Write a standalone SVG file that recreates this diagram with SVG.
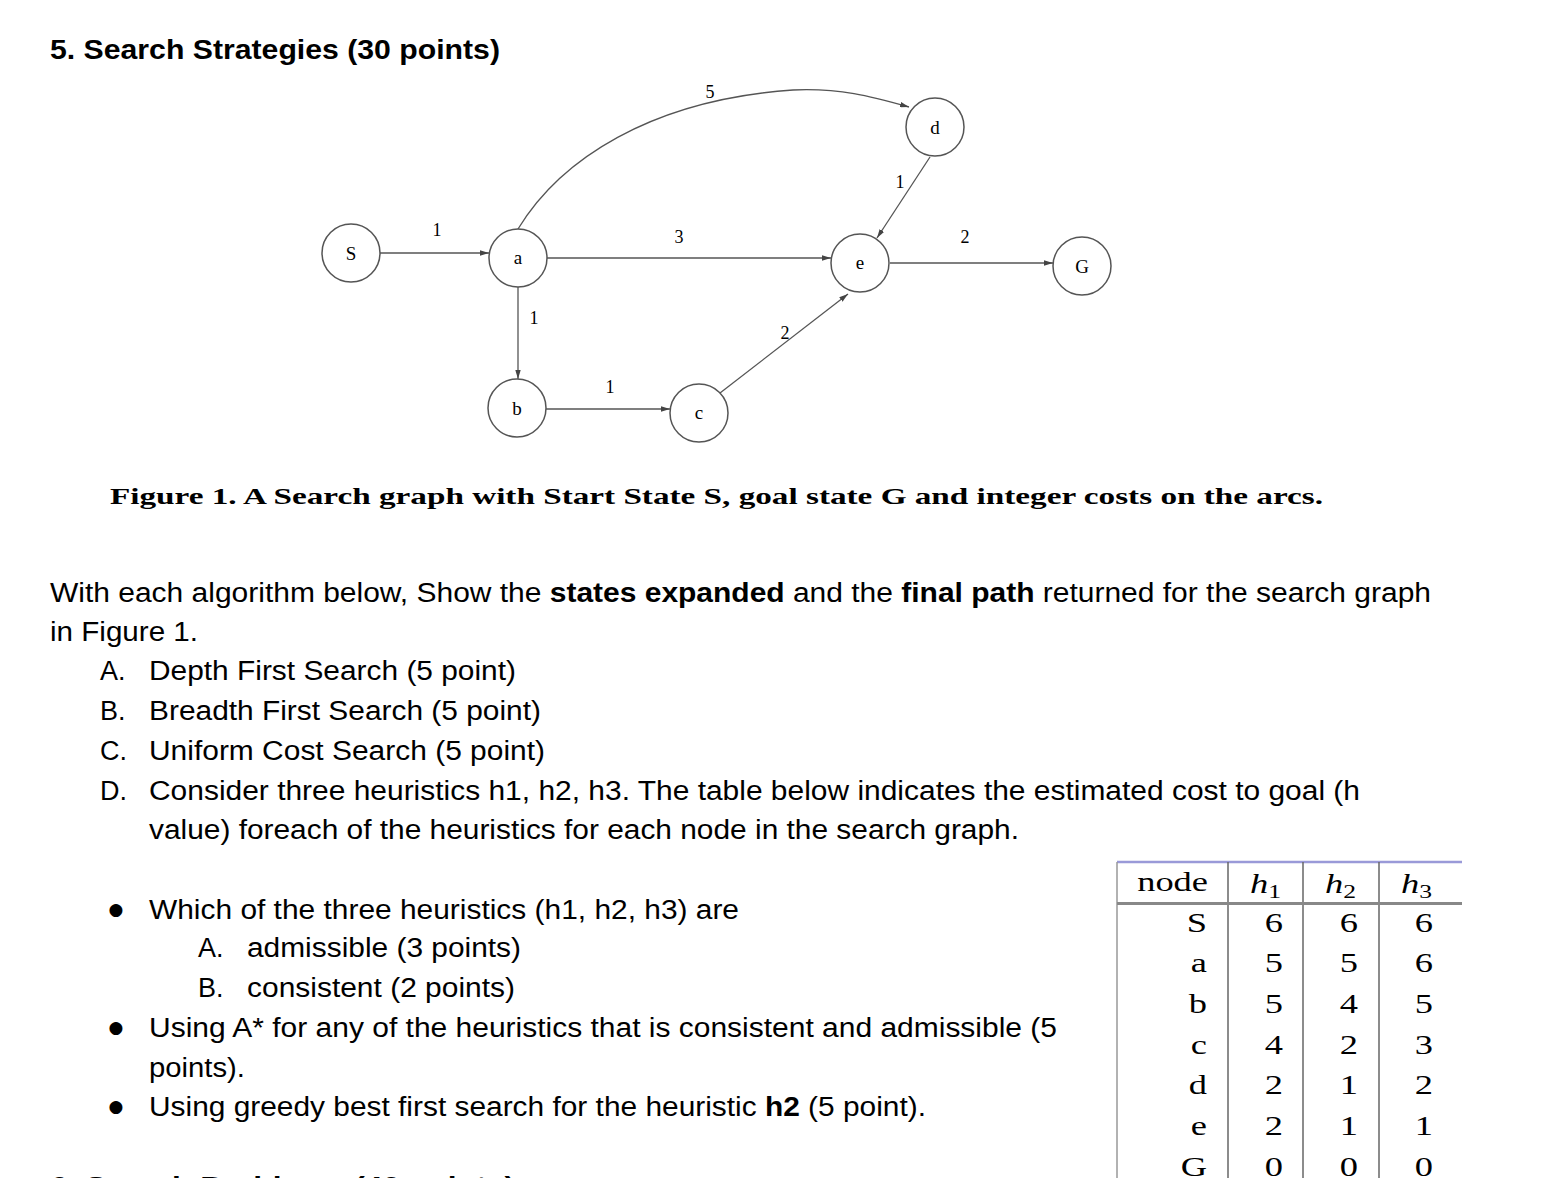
<svg xmlns="http://www.w3.org/2000/svg" width="1562" height="1178" viewBox="0 0 1562 1178">
<defs>
<style>
.sans{font-family:"Liberation Sans",Arial,sans-serif;fill:#000}
.body{font-size:27px}
.head{font-size:28px;font-weight:bold}
.serif{font-family:"Liberation Serif","Times New Roman",serif;fill:#000}
.nlab{font-size:19px;text-anchor:middle}
.elab{font-size:18px;text-anchor:middle}
.node circle{fill:#fff;stroke:#555;stroke-width:1.5}
.edge{fill:none;stroke:#555;stroke-width:1.3}
.tcell{font-size:27px;text-anchor:end}
.bul{font-family:"DejaVu Sans",sans-serif;font-size:17px;text-anchor:middle;fill:#000}
</style>
<marker id="arr" viewBox="0 0 10 6" refX="10" refY="3" markerWidth="9" markerHeight="5.4" markerUnits="userSpaceOnUse" orient="auto">
<path d="M0,0 L10,3 L0,6 z" fill="#444"/>
</marker>
</defs>
<rect width="1562" height="1178" fill="#fff"/>

<text class="sans head" x="50" y="59" textLength="450" lengthAdjust="spacingAndGlyphs">5. Search Strategies (30 points)</text>

<g id="connectors">
<line class="edge" x1="380" y1="253" x2="489" y2="253" marker-end="url(#arr)"/>
<line class="edge" x1="547" y1="258" x2="831" y2="258" marker-end="url(#arr)"/>
<line class="edge" x1="890" y1="263" x2="1053" y2="263" marker-end="url(#arr)"/>
<line class="edge" x1="518" y1="287" x2="518" y2="379" marker-end="url(#arr)"/>
<line class="edge" x1="546" y1="409" x2="670" y2="409" marker-end="url(#arr)"/>
<line class="edge" x1="720" y1="393" x2="848" y2="294" marker-end="url(#arr)"/>
<line class="edge" x1="930" y1="157" x2="877" y2="238" marker-end="url(#arr)"/>
<path class="edge" d="M518,229 C560,160 650,100 793,90 C840,88 870,96 909,107" marker-end="url(#arr)"/>
<text class="serif elab" x="437" y="236">1</text>
<text class="serif elab" x="710" y="98">5</text>
<text class="serif elab" x="679" y="243">3</text>
<text class="serif elab" x="965" y="243">2</text>
<text class="serif elab" x="900" y="188">1</text>
<text class="serif elab" x="534" y="324">1</text>
<text class="serif elab" x="785" y="339">2</text>
<text class="serif elab" x="610" y="393">1</text>
</g>

<g id="node-S" class="node"><circle cx="351" cy="253" r="29"/><text class="serif nlab" x="351" y="260">S</text></g>
<g id="node-a" class="node"><circle cx="518" cy="258" r="29"/><text class="serif nlab" x="518" y="264">a</text></g>
<g id="node-b" class="node"><circle cx="517" cy="408" r="29"/><text class="serif nlab" x="517" y="415">b</text></g>
<g id="node-c" class="node"><circle cx="699" cy="413" r="29"/><text class="serif nlab" x="699" y="419">c</text></g>
<g id="node-d" class="node"><circle cx="935" cy="127" r="29"/><text class="serif nlab" x="935" y="134">d</text></g>
<g id="node-e" class="node"><circle cx="860" cy="263" r="29"/><text class="serif nlab" x="860" y="269">e</text></g>
<g id="node-G" class="node"><circle cx="1082" cy="266" r="29"/><text class="serif nlab" x="1082" y="273">G</text></g>

<text class="serif" x="110" y="504" font-size="24" font-weight="bold" textLength="1213" lengthAdjust="spacingAndGlyphs">Figure 1. A Search graph with Start State S, goal state G and integer costs on the arcs.</text>

<g id="text-body" class="sans body">
<text x="50" y="602" textLength="1381" lengthAdjust="spacingAndGlyphs">With each algorithm below, Show the <tspan font-weight="bold">states expanded</tspan> and the <tspan font-weight="bold">final path</tspan> returned for the search graph</text>
<text x="50" y="641" textLength="148" lengthAdjust="spacingAndGlyphs">in Figure 1.</text>
<text x="100" y="680">A.</text>
<text x="149" y="680" textLength="367" lengthAdjust="spacingAndGlyphs">Depth First Search (5 point)</text>
<text x="100" y="720">B.</text>
<text x="149" y="720" textLength="392" lengthAdjust="spacingAndGlyphs">Breadth First Search (5 point)</text>
<text x="100" y="760">C.</text>
<text x="149" y="760" textLength="396" lengthAdjust="spacingAndGlyphs">Uniform Cost Search (5 point)</text>
<text x="100" y="800">D.</text>
<text x="149" y="800" textLength="1211" lengthAdjust="spacingAndGlyphs">Consider three heuristics h1, h2, h3. The table below indicates the estimated cost to goal (h</text>
<text x="149" y="839" textLength="870" lengthAdjust="spacingAndGlyphs">value) foreach of the heuristics for each node in the search graph.</text>
<text class="bul" x="116" y="915">●</text>
<text x="149" y="919" textLength="590" lengthAdjust="spacingAndGlyphs">Which of the three heuristics (h1, h2, h3) are</text>
<text x="198" y="957">A.</text>
<text x="247" y="957" textLength="274" lengthAdjust="spacingAndGlyphs">admissible (3 points)</text>
<text x="198" y="997">B.</text>
<text x="247" y="997" textLength="268" lengthAdjust="spacingAndGlyphs">consistent (2 points)</text>
<text class="bul" x="116" y="1033">●</text>
<text x="149" y="1037" textLength="908" lengthAdjust="spacingAndGlyphs">Using A* for any of the heuristics that is consistent and admissible (5</text>
<text x="149" y="1077" textLength="96" lengthAdjust="spacingAndGlyphs">points).</text>
<text class="bul" x="116" y="1112">●</text>
<text x="149" y="1116" textLength="777" lengthAdjust="spacingAndGlyphs">Using greedy best first search for the heuristic <tspan font-weight="bold">h2</tspan> (5 point).</text>
</g>

<text class="sans head" x="50" y="1196" textLength="465" lengthAdjust="spacingAndGlyphs">6. Search Problems (40 points)</text>

<g id="table">
<line x1="1117" y1="862" x2="1462" y2="862" stroke="#9a9ad8" stroke-width="2.5"/>
<line x1="1117" y1="862" x2="1117" y2="1178" stroke="#999" stroke-width="1.5"/>
<line x1="1228" y1="862" x2="1228" y2="1178" stroke="#666" stroke-width="1.5"/>
<line x1="1303" y1="862" x2="1303" y2="1178" stroke="#666" stroke-width="1.5"/>
<line x1="1379" y1="862" x2="1379" y2="1178" stroke="#666" stroke-width="1.5"/>
<line x1="1117" y1="903.5" x2="1462" y2="903.5" stroke="#888" stroke-width="3"/>
<g class="serif tcell">
<text transform="translate(1208,891) scale(1.35,1)">node</text>
<text transform="translate(1281,893) scale(1.35,1)"><tspan font-style="italic">h</tspan><tspan font-size="19" dy="5">1</tspan></text>
<text transform="translate(1356,893) scale(1.35,1)"><tspan font-style="italic">h</tspan><tspan font-size="19" dy="5">2</tspan></text>
<text transform="translate(1432,893) scale(1.35,1)"><tspan font-style="italic">h</tspan><tspan font-size="19" dy="5">3</tspan></text>

<text transform="translate(1207,932) scale(1.35,1)">S</text>
<text transform="translate(1283,932) scale(1.35,1)">6</text>
<text transform="translate(1358,932) scale(1.35,1)">6</text>
<text transform="translate(1433,932) scale(1.35,1)">6</text>

<text transform="translate(1207,972) scale(1.35,1)">a</text>
<text transform="translate(1283,972) scale(1.35,1)">5</text>
<text transform="translate(1358,972) scale(1.35,1)">5</text>
<text transform="translate(1433,972) scale(1.35,1)">6</text>

<text transform="translate(1207,1013) scale(1.35,1)">b</text>
<text transform="translate(1283,1013) scale(1.35,1)">5</text>
<text transform="translate(1358,1013) scale(1.35,1)">4</text>
<text transform="translate(1433,1013) scale(1.35,1)">5</text>

<text transform="translate(1207,1054) scale(1.35,1)">c</text>
<text transform="translate(1283,1054) scale(1.35,1)">4</text>
<text transform="translate(1358,1054) scale(1.35,1)">2</text>
<text transform="translate(1433,1054) scale(1.35,1)">3</text>

<text transform="translate(1207,1094) scale(1.35,1)">d</text>
<text transform="translate(1283,1094) scale(1.35,1)">2</text>
<text transform="translate(1358,1094) scale(1.35,1)">1</text>
<text transform="translate(1433,1094) scale(1.35,1)">2</text>

<text transform="translate(1207,1135) scale(1.35,1)">e</text>
<text transform="translate(1283,1135) scale(1.35,1)">2</text>
<text transform="translate(1358,1135) scale(1.35,1)">1</text>
<text transform="translate(1433,1135) scale(1.35,1)">1</text>

<text transform="translate(1207,1176) scale(1.35,1)">G</text>
<text transform="translate(1283,1176) scale(1.35,1)">0</text>
<text transform="translate(1358,1176) scale(1.35,1)">0</text>
<text transform="translate(1433,1176) scale(1.35,1)">0</text>
</g>
</g>
</svg>
